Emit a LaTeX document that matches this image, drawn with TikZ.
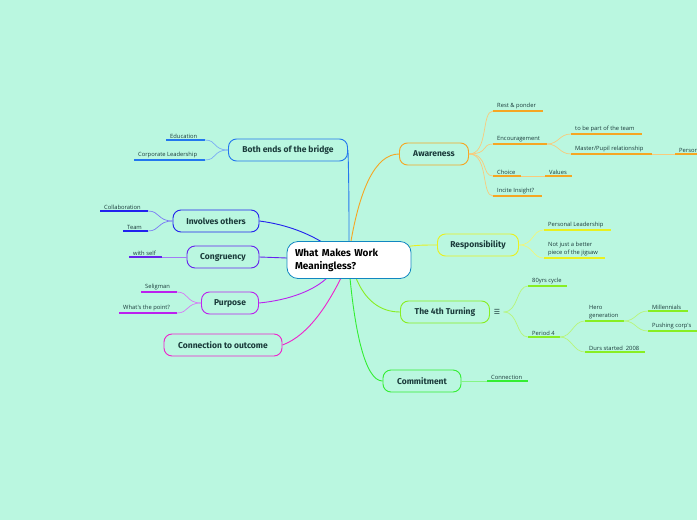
\documentclass[tikz,border=0pt]{standalone}
\usepackage{fontspec}
\setmainfont{Fira Sans}
\newfontfamily\leaff{Open Sans}
\newfontfamily\symf{DejaVu Sans}
\definecolor{bg}{HTML}{BAF7E0}
\definecolor{cA}{HTML}{F5A623}
\definecolor{cR}{HTML}{E8F020}
\definecolor{cT}{HTML}{88EE22}
\definecolor{cC}{HTML}{33EE33}
\definecolor{cB}{HTML}{2277EE}
\definecolor{cI}{HTML}{2222EE}
\definecolor{cG}{HTML}{6622EE}
\definecolor{cP}{HTML}{BB22EE}
\definecolor{cO}{HTML}{EE22CC}
\definecolor{ink}{HTML}{1A3A3A}
\tikzset{
 main/.style={draw=#1,line width=0.9pt,rounded corners=8pt,fill=bg,font=\fontsize{8.5}{10}\selectfont\bfseries,text=ink,inner sep=0pt},
 lt/.style={font=\leaff\fontsize{5.8}{8}\selectfont,text=ink,anchor=south west,inner xsep=4pt,inner ysep=1.5pt,align=left},
 ul/.style={draw=#1,line width=1.2pt},
 cn/.style={draw=#1!60,line width=0.7pt},
 mc/.style={draw=#1,line width=0.9pt}
}
\newcommand{\leafR}[6]{% name x1 x2 y text color
 \coordinate (#1s) at (#2,#4); \coordinate (#1e) at (#3,#4);
 \draw[ul=#6] (#1s) -- (#1e);
 \node[lt] (#1) at (#1s) {#5};}
\newcommand{\leafL}[6]{% name xright xleft y text color
 \coordinate (#1e) at (#2,#4); \coordinate (#1s) at (#3,#4);
 \draw[ul=#6] (#1e) -- (#1s);
 \node[lt] (#1) at (#1s) {#5};}
\begin{document}
\begin{tikzpicture}[x=1pt,y=-1pt]
\fill[bg] (0,0) rectangle (697,520);
\useasboundingbox (0,0) rectangle (697,520);
% main nodes
\node[main=cA,minimum width=69pt,minimum height=22pt] (aw) at (434,154) {Awareness};
\node[main=cR,minimum width=81pt,minimum height=22pt] (re) at (478,245) {Responsibility};
\node[main=cT,minimum width=89pt,minimum height=22pt] (tu) at (445,312) {The 4th Turning};
\node[main=cC,minimum width=78pt,minimum height=22pt] (co) at (422,381) {Commitment};
\node[main=cB,minimum width=119pt,minimum height=22pt] (be) at (288,150) {Both ends of the bridge};
\node[main=cI,minimum width=86pt,minimum height=22pt] (io) at (216,221) {Involves others};
\node[main=cG,minimum width=72pt,minimum height=22pt] (cg) at (223,257) {Congruency};
\node[main=cP,minimum width=57pt,minimum height=22pt] (pu) at (230,303) {Purpose};
\node[main=cO,minimum width=118pt,minimum height=22pt] (ou) at (223,345) {Connection to outcome};
\node[text=ink,font=\symf\fontsize{7}{8}\selectfont] (ic) at (497,312) {☰};
% central connectors
\draw[mc=cA] (351,241) .. controls (360,190) and (375,154) .. (aw.west);
\draw[mc=cR] (405,247) .. controls (415,245) and (425,245) .. (re.west);
\draw[mc=cT] (356,278) .. controls (365,300) and (380,312) .. (tu.west);
\draw[mc=cC] (350,278) .. controls (355,330) and (365,381) .. (co.west);
\draw[mc=cB] (be.east) .. controls (349,180) and (349,220) .. (349,241);
\draw[mc=cI] (io.east) .. controls (290,225) and (310,235) .. (322,242);
\draw[mc=cG] (cg.east) -- (287,258);
\draw[mc=cP] (pu.east) .. controls (290,300) and (315,290) .. (328,277);
\draw[mc=cO] (ou.east) .. controls (310,335) and (330,300) .. (341,278);
\node[draw=cB!70!black!70!cyan,fill=white,line width=0.8pt,rounded corners=11pt,minimum width=124pt,minimum height=37pt,text width=108pt,font=\fontsize{10}{13}\selectfont\bfseries,text=black,align=left] (ce) at (349,260) {What Makes Work\\Meaningless?};
% Awareness leaves
\leafR{rp}{493}{543}{111}{Rest \& ponder}{cA}
\leafR{en}{493}{547}{144}{Encouragement}{cA}
\leafR{ch}{493}{521}{176}{Choice}{cA}
\leafR{ii}{493}{542}{196}{Incite Insight?}{cA}
\leafR{tb}{571}{642}{134}{to be part of the team}{cA}
\leafR{mp}{571}{652}{154}{Master/Pupil relationship}{cA}
\leafR{pe}{675}{720}{154}{Personal}{cA}
\leafR{va}{545}{572}{176}{Values}{cA}
\foreach \c in {rp,en,ch,ii} \draw[cn=cA] (aw.east) .. controls +(20,0) and +(-12,0) .. (\c s);
\foreach \c in {tb,mp} \draw[cn=cA] (ene) .. controls +(12,0) and +(-12,0) .. (\c s);
\draw[cn=cA] (mpe) -- (pes);
\draw[cn=cA] (che) -- (vas);
% Responsibility
\leafR{pl}{544}{611}{230}{Personal Leadership}{cR}
\leafR{nj}{544}{605}{258}{Not just a better\\piece of the jigsaw}{cR}
\foreach \c in {pl,nj} \draw[cn=cR] (re.east) .. controls +(15,0) and +(-12,0) .. (\c s);
% 4th Turning
\leafR{ey}{528}{567}{286}{80yrs cycle}{cT}
\leafR{p4}{528}{560}{337}{Period 4}{cT}
\leafR{hg}{585}{624}{321}{Hero\\generation}{cT}
\leafR{ds}{585}{645}{352}{Durs started\ \ 2008}{cT}
\leafR{mi}{648}{688}{311}{Millennials}{cT}
\leafR{pc}{648}{700}{331}{Pushing corp's}{cT}
\foreach \c in {ey,p4} \draw[cn=cT] (ic.east) .. controls +(15,0) and +(-12,0) .. (\c s);
\foreach \c in {hg,ds} \draw[cn=cT] (p4e) .. controls +(12,0) and +(-12,0) .. (\c s);
\foreach \c in {mi,pc} \draw[cn=cT] (hge) .. controls +(12,0) and +(-12,0) .. (\c s);
% Commitment
\leafR{cx}{487}{528}{381}{Connection}{cC}
\draw[cn=cC] (co.east) -- (cxs);
% Left leaves
\leafL{ed}{205}{166}{140}{Education}{cB}
\leafL{cl}{205}{134}{160}{Corporate Leadership}{cB}
\foreach \c in {ed,cl} \draw[cn=cB] (be.west) .. controls +(-15,0) and +(12,0) .. (\c e);
\leafL{cb}{148}{100}{211}{Collaboration}{cI}
\leafL{tm}{148}{123}{231}{Team}{cI}
\foreach \c in {cb,tm} \draw[cn=cI] (io.west) .. controls +(-15,0) and +(12,0) .. (\c e);
\leafL{ws}{162}{129}{257}{with self}{cG}
\draw[cn=cG] (cg.west) -- (wse);
\leafL{se}{177}{141}{292}{Seligman}{cP}
\leafL{wp}{177}{119}{313}{What's the point?}{cP}
\foreach \c in {se,wp} \draw[cn=cP] (pu.west) .. controls +(-15,0) and +(12,0) .. (\c e);
\end{tikzpicture}
\end{document}
